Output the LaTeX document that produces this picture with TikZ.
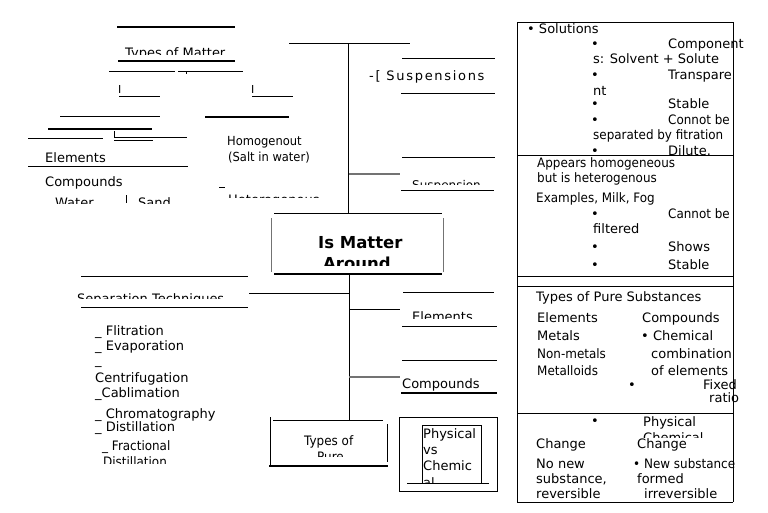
\documentclass[tikz,border=0pt]{standalone}
\usepackage{fontspec}
\setmainfont{DejaVu Sans}
\newfontfamily\condf[FakeStretch=0.92]{DejaVu Sans}
\newfontfamily\spacedf[LetterSpace=13]{DejaVu Sans}
\tikzset{
  tx/.style={inner sep=0pt, anchor=base west, font=\fontsize{13}{15}\selectfont},
  txc/.style={inner sep=0pt, anchor=base west, font=\condf\fontsize{13}{15}\selectfont},
  ln/.style={line width=0.9pt},
  thn/.style={line width=0.7pt},
  thk/.style={line width=2pt},
  gln/.style={line width=1.2pt, draw=black!55},
}
\begin{document}
\begin{tikzpicture}[x=1pt,y=-1pt]
\useasboundingbox (0,0) rectangle (768,512);
\fill[white] (0,0) rectangle (768,512);

% ---------- upper left: Types of Matter ----------
\draw[thk] (117,27) -- (235,27);
\begin{scope}
  \clip (100,40) rectangle (250,54.5);
  \node[tx] (tom) at (125,57) {Types of Matter};
\end{scope}
\draw[line width=1.3pt] (118,61) -- (235,61);
\draw[thn] (109,71) -- (175,71);
\draw[thn] (178,71) -- (243,71);
\draw[thn] (186,71) -- (186,74);
\node[tx, font=\fontsize{11}{13}\selectfont] (ia) at (118,93) {I};
\draw[ln] (119,96) -- (160,96);
\node[tx, font=\fontsize{11}{13}\selectfont] (ib) at (251,93) {I};
\draw[ln] (252,96) -- (293,96);
\draw[thn] (60,116) -- (160,116);
\draw[line width=2.5pt] (205,117) -- (289,117);
\draw[thk] (48,129) -- (152,129);
\draw[thn] (28,138) -- (103,138);
\draw[ln] (114,131) -- (114,138);
\draw[ln] (114,137) -- (187,137);
\draw[thn] (114,140) -- (153,140);
\node[tx] (el1) at (45,162) {Elements};
\draw[thn] (28,166) -- (188,166);
\node[tx] (co1) at (45,186) {Compounds};
\begin{scope}
  \clip (40,190) rectangle (200,203.5);
  \node[tx] (wat) at (55,207.5) {Water};
  \node[tx] (san) at (138,207.5) {Sand};
\end{scope}
\draw[ln] (126,195) -- (126,203);
\node[txc, font=\condf\fontsize{12.5}{15}\selectfont] (hom) at (227,145) {Homogenout};
\node[txc, font=\condf\fontsize{12.5}{15}\selectfont] (salt) at (228,161) {(Salt in water)};
\draw[ln] (219,187) -- (225,187);
\begin{scope}
  \clip (215,185) rectangle (320,197.5);
  \node[tx] (het) at (228,204) {Heterogenous};
\end{scope}

% ---------- top centre ----------
\draw[ln] (289,43) -- (410,43);
\draw[ln] (348,43) -- (348,213);
\draw[ln] (402,58) -- (495,58);
\node[inner sep=0pt, anchor=base west, font=\spacedf\fontsize{13}{15}\selectfont] (susp) at (369,80) {-[ Suspensions};
\draw[ln] (401,93) -- (495,93);
\draw[ln] (402,157) -- (495,157);
\draw[gln] (349,174) -- (400,174);
\begin{scope}
  \clip (400,170) rectangle (500,184);
  \node[tx, font=\fontsize{12}{14}\selectfont] (sus2) at (412,189) {Suspension};
\end{scope}
\draw[ln] (401,190) -- (494,190);

% ---------- centre box ----------
\draw[ln] (274,213) -- (442,213);
\draw[line width=0.8pt, draw=black!55] (271,218) -- (271,272);
\draw[line width=0.8pt, draw=black!55] (443,218) -- (443,272);
\node[inner sep=0pt, anchor=base west, font=\bfseries\fontsize{16.5}{19}\selectfont] (ism) at (318,248) {Is Matter};
\begin{scope}
  \clip (300,250) rectangle (420,265.5);
  \node[inner sep=0pt, anchor=base west, font=\bfseries\fontsize{16.5}{19}\selectfont] (aro) at (323,269) {Around};
\end{scope}
\draw[thk] (274,274) -- (442,274);
\draw[ln] (349,275) -- (349,420);

% ---------- separation techniques ----------
\draw[ln] (81,276) -- (248,276);
\begin{scope}
  \clip (70,285) rectangle (250,298.5);
  \node[tx] (sep) at (77,303) {Separation Techniques};
\end{scope}
\draw[ln] (249,293) -- (349,293);
\draw[ln] (81,307) -- (248,307);
\node[tx] (s1) at (95,335) {\_ Flitration};
\node[tx] (s2) at (95,350) {\_ Evaporation};
\node[tx] (s3) at (95,364) {\_};
\node[tx] (s4) at (95,382) {Centrifugation};
\node[tx] (s5) at (95,397) {\_Cablimation};
\node[tx] (s6) at (95,418) {\_ Chromatography};
\node[tx] (s7) at (95,431) {\_ Distillation};
\node[txc] (s8) at (102,450) {\_ Fractional};
\begin{scope}
  \clip (90,452) rectangle (200,463);
  \node[txc] (s9) at (103,466.5) {Distillation};
\end{scope}

% ---------- lower centre ----------
\draw[ln] (349,309) -- (400,309);
\draw[ln] (403,292) -- (494,292);
\begin{scope}
  \clip (400,300) rectangle (500,318.5);
  \node[tx] (el2) at (412,321.5) {Elements};
\end{scope}
\draw[ln] (402,326) -- (497,326);
\draw[ln] (402,360) -- (497,360);
\draw[gln, line width=1.6pt] (349,377) -- (400,377);
\node[tx] (co2) at (402,388) {Compounds};
\draw[thk] (401,393) -- (497,393);

% Types of Pure box
\draw[ln] (273,420) -- (383,420);
\draw[thn] (270,417) -- (270,465);
\draw[thn] (387,424) -- (387,462);
\draw[thk] (269,466) -- (388,466);
\node[txc] (top1) at (304,445) {Types of};
\begin{scope}
  \clip (290,448) rectangle (380,456);
  \node[txc] (top2) at (317,461.5) {Pure};
\end{scope}

% Physical vs Chemical box
\draw[ln] (399,417) rectangle (497,491);
\draw[thn] (422,425) rectangle (481,483);
\draw[ln] (407,483) -- (489,483);
\node[tx] (pv1) at (423,438) {Physical};
\node[tx] (pv2) at (423,454) {vs};
\node[tx] (pv3) at (423,470) {Chemic};
\begin{scope}
  \clip (415,470) rectangle (480,483);
  \node[tx] (pv4) at (423,487.5) {al};
\end{scope}

% ---------- right column boxes ----------
\draw[ln] (517,22) -- (517,502);
\draw[ln] (733,22) -- (733,502);
\foreach \yy in {22,155,276,286,413,502} \draw[ln] (517,\yy) -- (733,\yy);

% box 1
\node[tx] (b1a) at (527,33) {• Solutions};
\node[tx] (b1b) at (591,48) {•};
\node[tx] (b1c) at (668,48) {Component};
\node[tx] (b1d) at (593,63) {s: Solvent + Solute};
\node[tx] (b1e) at (591,79) {•};
\node[tx] (b1f) at (668,79) {Transpare};
\node[tx] (b1g) at (593,95) {nt};
\node[tx] (b1h) at (591,108) {•};
\node[tx] (b1i) at (668,108) {Stable};
\node[tx] (b1j) at (591,124) {•};
\node[txc] (b1k) at (668,124) {Connot be};
\node[txc] (b1l) at (593,139) {separated by fitration};
\node[tx] (b1m) at (591,155) {•};
\begin{scope}
  \clip (600,140) rectangle (740,154);
  \node[tx] (b1n) at (668,155.5) {Dilute.};
\end{scope}

% box 2
\node[txc] (b2a) at (537,167) {Appears homogeneous};
\node[txc] (b2b) at (537,182.5) {but is heterogenous};
\node[txc] (b2c) at (536,202) {Examples, Milk, Fog};
\node[tx] (b2d) at (591,218) {•};
\node[txc] (b2e) at (668,218) {Cannot be};
\node[tx] (b2f) at (593,233) {filtered};
\node[tx] (b2g) at (591,251) {•};
\node[tx] (b2h) at (668,251) {Shows};
\node[tx] (b2i) at (591,269) {•};
\node[tx] (b2j) at (668,269) {Stable};

% box 3
\node[tx] (b3a) at (536,301.5) {Types of Pure Substances};
\node[tx] (b3b) at (537,322) {Elements};
\node[tx] (b3c) at (642,322) {Compounds};
\node[tx] (b3d) at (537,340) {Metals};
\node[tx] (b3e) at (641,340) {• Chemical};
\node[txc] (b3f) at (537,358) {Non-metals};
\node[tx] (b3g) at (651,358) {combination};
\node[txc] (b3h) at (537,375) {Metalloids};
\node[tx] (b3i) at (651,375) {of elements};
\node[tx] (b3j) at (628,389) {•};
\node[tx] (b3k) at (703,389) {Fixed};
\node[tx] (b3l) at (709,402) {ratio};

% box 4
\node[tx] (b4a) at (591,425) {•};
\node[tx] (b4b) at (643,426.5) {Physical};
\begin{scope}
  \clip (630,428) rectangle (720,437);
  \node[tx] (b4c) at (643,442.5) {Chemical};
\end{scope}
\node[tx] (b4d) at (536,448.5) {Change};
\node[tx] (b4e) at (637,448.5) {Change};
\node[tx] (b4f) at (536,468) {No new};
\node[txc] (b4g) at (633,468) {• New substance};
\node[tx] (b4h) at (536,483) {substance,};
\node[tx] (b4i) at (637,483) {formed};
\node[tx] (b4j) at (536,498) {reversible};
\node[tx] (b4k) at (644,498) {irreversible};
\end{tikzpicture}
\end{document}
